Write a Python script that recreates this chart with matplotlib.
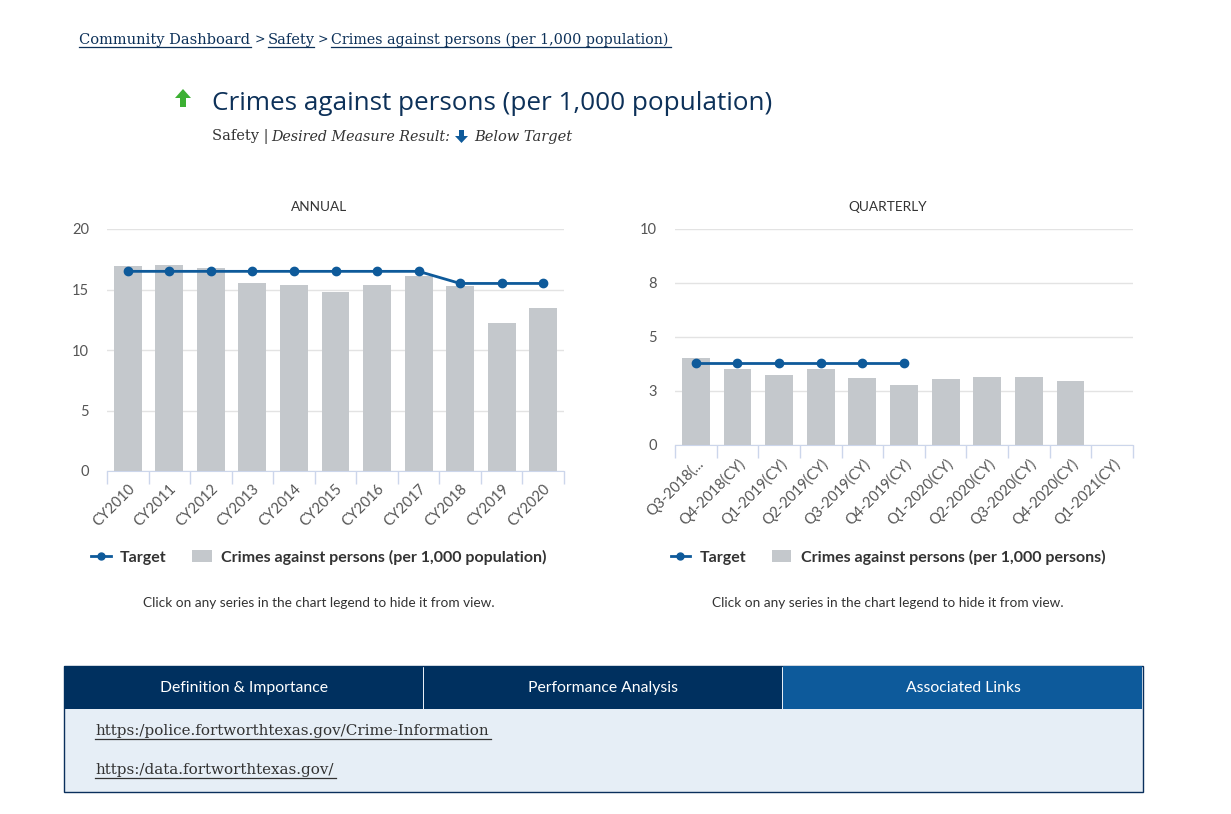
import matplotlib
matplotlib.use("Agg")
import matplotlib.pyplot as plt
from matplotlib.patches import Rectangle, Polygon
from matplotlib.lines import Line2D
import numpy as np

# ---- data ----
annual_cats = ["CY2010", "CY2011", "CY2012", "CY2013", "CY2014", "CY2015",
               "CY2016", "CY2017", "CY2018", "CY2019", "CY2020"]
annual_vals = [16.97, 17.05, 16.8, 15.56, 15.4, 14.8, 15.4, 16.15, 15.3, 12.2, 13.5]
annual_target = [16.5, 16.5, 16.5, 16.5, 16.5, 16.5, 16.5, 16.5, 15.5, 15.5, 15.5]
annual_yticks = [0, 5, 10, 15, 20]
annual_ylabels = ["0", "5", "10", "15", "20"]

quarter_cats = ["Q3-2018(...", "Q4-2018(CY)", "Q1-2019(CY)", "Q2-2019(CY)", "Q3-2019(CY)",
                "Q4-2019(CY)", "Q1-2020(CY)", "Q2-2020(CY)", "Q3-2020(CY)", "Q4-2020(CY)",
                "Q1-2021(CY)"]
quarter_vals = [4.02, 3.52, 3.24, 3.52, 3.1, 2.78, 3.06, 3.15, 3.15, 2.97, np.nan]
quarter_target = [3.8, 3.8, 3.8, 3.8, 3.8, 3.8, np.nan, np.nan, np.nan, np.nan, np.nan]
quarter_yticks = [0, 2.5, 5, 7.5, 10]
quarter_ylabels = ["0", "3", "5", "8", "10"]

W, H = 1231, 814
BAR = "#c4c8cc"
LINE = "#0e5a9a"
NAVY = "#0d3159"
GRID = "#e3e3e3"
AXIS = "#ccd6eb"

fig = plt.figure(figsize=(W / 100, H / 100), dpi=100)
fig.patch.set_facecolor("white")


def fx(x):
    return x / W


def fy(y):
    return 1 - y / H


def txt(x, y, s, **kw):
    fig.text(fx(x), fy(y), s, **kw)


def uline(x0, x1, y, color="#333333"):
    fig.add_artist(Line2D([fx(x0), fx(x1)], [fy(y), fy(y)], color=color, lw=0.9,
                          transform=fig.transFigure))


def poly(pts, color):
    fig.add_artist(Polygon([(fx(a), fy(b)) for a, b in pts], closed=True,
                           facecolor=color, edgecolor="none", transform=fig.transFigure))


# ---- header ----
serif = "DejaVu Serif"
txt(79, 40, "Community Dashboard", family=serif, fontsize=10.5, color=NAVY, va="center")
txt(259.5, 40, ">", family=serif, fontsize=9, color=NAVY, va="center", ha="center")
txt(268, 40, "Safety", family=serif, fontsize=10.5, color=NAVY, va="center")
txt(322.5, 40, ">", family=serif, fontsize=9, color=NAVY, va="center", ha="center")
txt(331, 40, "Crimes against persons (per 1,000 population)", family=serif,
    fontsize=10.3, color=NAVY, va="center")
uline(79, 251, 47, NAVY)
uline(268, 314, 47, NAVY)
uline(331, 671, 47, NAVY)

# green arrow
poly([(175, 98), (183, 89), (191, 98), (186, 98), (186, 107), (180, 107), (180, 98)], "#3cb033")

txt(212, 103, "Crimes against persons (per 1,000 population)", family="Open Sans",
    fontsize=18.8, color=NAVY, va="center")
txt(212, 137, "Safety |", family=serif, fontsize=10.5, color="#333333", va="center")
txt(271, 137, "Desired Measure Result:", family=serif, fontsize=10.3, style="italic",
    color="#333333", va="center")
# blue down arrow
poly([(455, 136), (461.5, 143), (468, 136), (464, 136), (464, 130), (459, 130), (459, 136)], LINE)
txt(474, 137, "Below Target", family=serif, fontsize=10.5, style="italic",
    color="#333333", va="center")


# ---- charts ----
def draw_chart(rect, title, cats, vals, target, yticks, ylabels, ymax, legend_label, cx):
    ax = fig.add_axes(rect)
    x = np.arange(len(cats))
    ax.bar(x, vals, width=0.67, color=BAR, zorder=2)
    ax.plot(x, target, color=LINE, lw=2, marker="o", markersize=6, zorder=3)
    ax.set_xlim(-0.5, len(cats) - 0.5)
    ax.set_ylim(0, ymax)
    ax.set_yticks(yticks)
    ax.set_yticklabels(ylabels)
    ax.yaxis.grid(True, color=GRID, lw=1, zorder=0)
    ax.set_xticks(x)
    ax.set_xticklabels(cats, rotation=45, ha="right", rotation_mode="anchor")
    ax.set_xticks(np.arange(len(cats) + 1) - 0.5, minor=True)
    ax.tick_params(axis="x", which="major", length=0, pad=8, labelsize=10.5,
                   labelcolor="#555555")
    ax.tick_params(axis="x", which="minor", length=9, color=AXIS, width=1)
    ax.tick_params(axis="y", length=0, pad=13, labelsize=10.5, labelcolor="#555555")
    for lab in ax.get_xticklabels() + ax.get_yticklabels():
        lab.set_family("Lato")
    for s in ["top", "right", "left"]:
        ax.spines[s].set_visible(False)
    ax.spines["bottom"].set_color(AXIS)
    ax.set_axisbelow(True)

    txt(cx, 207, title, family="Lato", fontsize=9.8, color="#333333", ha="center", va="center")
    h1 = Line2D([], [], color=LINE, lw=2, marker="o", markersize=5)
    h2 = Rectangle((0, 0), 1, 1, facecolor=BAR)
    leg = fig.legend([h1, h2], ["Target", legend_label], loc="center",
                     bbox_to_anchor=(fx(cx), fy(557)), ncol=2, frameon=False,
                     prop={"family": "Lato", "weight": "bold", "size": 11.5},
                     handlelength=1.2, handletextpad=0.6, columnspacing=1.6)
    for t in leg.get_texts():
        t.set_color("#333333")
    txt(cx, 603, "Click on any series in the chart legend to hide it from view.",
        family="Lato", fontsize=9.8, color="#333333", ha="center", va="center")
    return ax


draw_chart([fx(107), fy(471), fx(564) - fx(107), fy(229) - fy(471)], "ANNUAL",
           annual_cats, annual_vals, annual_target, annual_yticks, annual_ylabels, 20,
           "Crimes against persons (per 1,000 population)", 319)
draw_chart([fx(675), fy(445), fx(1133) - fx(675), fy(229) - fy(445)], "QUARTERLY",
           quarter_cats, quarter_vals, quarter_target, quarter_yticks, quarter_ylabels, 10,
           "Crimes against persons (per 1,000 persons)", 888)

# ---- bottom tabs ----
panel_x0, panel_x1 = 64, 1143
fig.add_artist(Rectangle((fx(panel_x0), fy(792)), fx(panel_x1) - fx(panel_x0), fy(666) - fy(792),
                         facecolor="#e6eef6", edgecolor="#0a2f5c", lw=1, transform=fig.transFigure))
tabs = ["Definition & Importance", "Performance Analysis", "Associated Links"]
tab_colors = ["#00305f", "#00305f", "#0d5a9b"]
edges = [64, 424, 783, 1143]
for i, name in enumerate(tabs):
    fig.add_artist(Rectangle((fx(edges[i]), fy(709)), fx(edges[i + 1] - 1) - fx(edges[i]),
                             fy(666) - fy(709), facecolor=tab_colors[i], edgecolor="none",
                             transform=fig.transFigure))
    txt((edges[i] + edges[i + 1]) / 2, 688, name, family="Lato", fontsize=11.3,
        color="white", ha="center", va="center")

links = ["https://police.fortworthtexas.gov/Crime-Information", "https://data.fortworthtexas.gov/"]
link_y = [731, 770]
link_w = [491, 336]
for s, y, w in zip(links, link_y, link_w):
    txt(95, y, s.replace("//", "/"), family=serif, fontsize=10.9, color="#333333", va="center")
    uline(95, w, y + 8)

fig.savefig("out.png", dpi=100, facecolor="white")
